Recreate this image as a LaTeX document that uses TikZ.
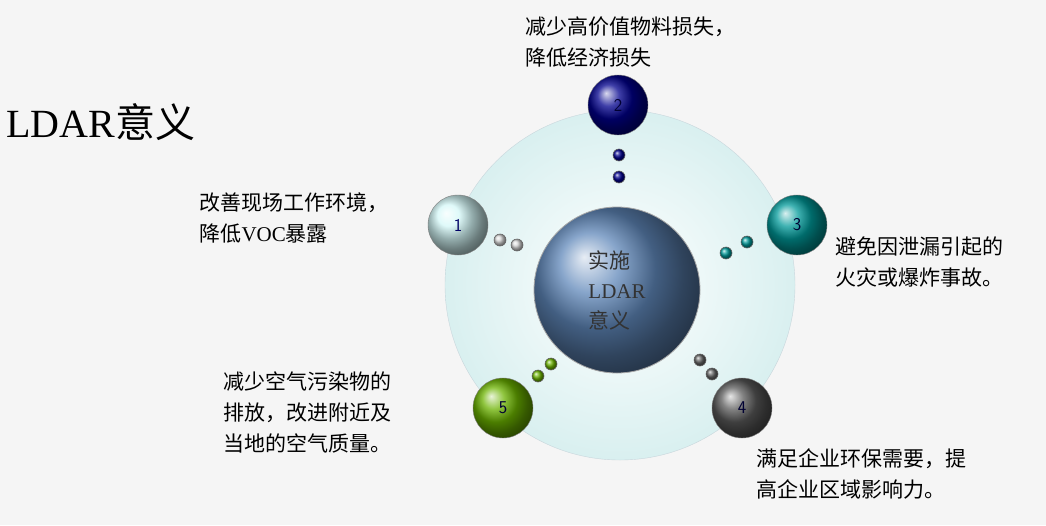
\documentclass[tikz,border=0pt]{standalone}
\usepackage{fontspec}
\newfontfamily\cjk{Noto Sans CJK SC}
\setmainfont{Liberation Serif}
\definecolor{steel}{RGB}{95,135,185}
\begin{document}
\begin{tikzpicture}[x=1pt,y=-1pt,
  lbl/.style={font=\cjk\fontsize{21}{31}\selectfont,align=left,anchor=west,text=black},
  ballnum/.style={font=\sffamily\fontsize{18}{18}\selectfont},
  dot/.style={circle,minimum size=12pt,inner sep=0pt,draw=black!60,line width=0.6pt}]
\useasboundingbox (0,0) rectangle (1046,525);
\fill[gray!8] (0,0) rectangle (1046,525);
\node[circle,minimum size=350pt,inner sep=0,draw=cyan!25!gray!40,inner color=white,outer color=cyan!20!teal!15] (big) at (620,285) {};
\node[circle,minimum size=166pt,inner sep=0,draw=gray!70,line width=0.8pt,ball color=steel,align=left,text=black!80,font=\cjk\fontsize{21}{30}\selectfont] (c) at (617,290) {实施\\{\rmfamily LDAR}\\意义};
\node[circle,minimum size=60pt,inner sep=0,draw=gray,ball color=gray!30!cyan!20,ballnum,text=blue!40!black] (n1) at (458,225) {1};
\node[circle,minimum size=60pt,inner sep=0,draw=gray,ball color=blue!55!black,ballnum,text=blue!20!black] (n2) at (618,105) {2};
\node[circle,minimum size=60pt,inner sep=0,draw=gray,ball color=teal!80!cyan,ballnum,text=blue!20!black] (n3) at (797,225) {3};
\node[circle,minimum size=60pt,inner sep=0,draw=gray,ball color=black!65,ballnum,text=blue!20!black] (n4) at (742,408) {4};
\node[circle,minimum size=60pt,inner sep=0,draw=gray,ball color=yellow!60!green!70!black,ballnum,text=blue!20!black] (n5) at (503,408) {5};
\node[dot,ball color=blue!55!black] (d2a) at (619,155) {};
\node[dot,ball color=blue!55!black] (d2b) at (619,177) {};
\node[dot,ball color=gray!30] (d1a) at (500,240) {};
\node[dot,ball color=gray!30] (d1b) at (517,245) {};
\node[dot,ball color=teal!80!cyan] (d3a) at (747,242) {};
\node[dot,ball color=teal!80!cyan] (d3b) at (726,253) {};
\node[dot,ball color=black!60] (d4a) at (700,360) {};
\node[dot,ball color=black!60] (d4b) at (712,374) {};
\node[dot,ball color=yellow!60!green!70!black] (d5a) at (551,364) {};
\node[dot,ball color=yellow!60!green!70!black] (d5b) at (538,376) {};
\node[anchor=west,font=\fontsize{40}{40}\selectfont] (title) at (3,122) {LDAR{\cjk 意义}};
\node[lbl] (t2) at (522,42) {减少高价值物料损失，\\降低经济损失};
\node[lbl] (t1) at (196,218) {改善现场工作环境，\\降低{\rmfamily VOC}暴露};
\node[lbl] (t3) at (832,262) {避免因泄漏引起的\\火灾或爆炸事故。};
\node[lbl] (t5) at (220,412) {减少空气污染物的\\排放，改进附近及\\当地的空气质量。};
\node[lbl] (t4) at (753,474) {满足企业环保需要，提\\高企业区域影响力。};
\end{tikzpicture}
\end{document}
